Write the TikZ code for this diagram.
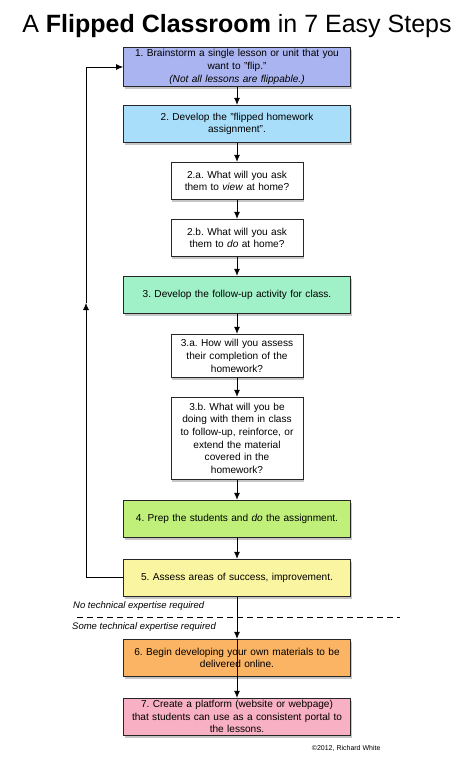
\documentclass[tikz,border=0pt]{standalone}
\usepackage{fontspec}
\setmainfont{Liberation Sans}
\usepackage{xcolor}
\usetikzlibrary{positioning, arrows.meta, shadows}
\frenchspacing
\definecolor{stepone}{RGB}{170,180,240}
\definecolor{steptwo}{RGB}{168,222,250}
\definecolor{stepthree}{RGB}{160,240,200}
\definecolor{stepfour}{RGB}{192,240,122}
\definecolor{stepfive}{RGB}{250,245,160}
\definecolor{stepsix}{RGB}{250,180,100}
\definecolor{stepseven}{RGB}{248,176,196}
\tikzstyle{every node}=[font=\fontsize{10.1}{12.7}\selectfont]
\tikzstyle{wide} = [rectangle, draw=black!85, line width=0.8pt, fill=stepone, align=center, text width=219pt, inner xsep=4pt, inner ysep=2pt, minimum height=37.2pt, drop shadow={shadow xshift=1pt, shadow yshift=-2.5pt, opacity=0.45}]
\tikzstyle{narrow} = [wide, fill=white, text width=124pt]
\tikzstyle{line} = [draw, line width=0.8pt, -{Latex[length=7pt,width=6pt]}]
\tikzstyle{note} = [font=\fontsize{9.5}{11}\selectfont\itshape, anchor=west, inner sep=0pt]

\begin{document}
\begin{tikzpicture}[x=1pt, y=-1pt, node distance=19pt]
    \useasboundingbox (0,0) rectangle (474,762);
    % Title
    \node [font=\fontsize{25}{30}\selectfont, anchor=base] (title) at (237,33) {A \textbf{Flipped Classroom} in 7 Easy Steps};
    % Place nodes
    \node [wide] (s1) at (237,67) {1. Brainstorm a single lesson or unit that you\\ want to "flip."\\ \textit{(Not all lessons are flippable.)}};
    \node [wide, below=18pt of s1, fill=steptwo] (s2) {2. Develop the "flipped homework\\ assignment".};
    \node [narrow, below=of s2] (s2a) {2.a. What will you ask\\ them to \textit{view} at home?};
    \node [narrow, below=of s2a] (s2b) {2.b. What will you ask\\ them to \textit{do} at home?};
    \node [wide, below=of s2b, fill=stepthree] (s3) {3. Develop the follow-up activity for class.};
    \node [narrow, below=20pt of s3, minimum height=43.2pt] (s3a) {3.a. How will you assess\\ their completion of the\\ homework?};
    \node [narrow, below=of s3a, minimum height=82.2pt] (s3b) {3.b. What will you be\\ doing with them in class\\ to follow-up, reinforce, or\\ extend the material\\ covered in the\\ homework?};
    \node [wide, below=20pt of s3b, fill=stepfour] (s4) {4. Prep the students and \textit{do} the assignment.};
    \node [wide, below=21pt of s4, fill=stepfive] (s5) {5. Assess areas of success, improvement.};
    \node [wide, below=42pt of s5, fill=stepsix] (s6) {6. Begin developing your own materials to be\\ delivered online.};
    \node [wide, below=21pt of s6, fill=stepseven, minimum height=36.2pt] (s7) {7. Create a platform (website or webpage)\\ that students can use as a consistent portal to\\ the lessons.};
    % Expertise divide
    \node [note] (easy) at (73,606) {No technical expertise required};
    \node [note] (hard) at (72,627) {Some technical expertise required};
    \coordinate (cutl) at (77,617);
    \coordinate (cutr) at (400,617);
    \draw [line width=0.8pt, dash pattern=on 6pt off 4pt] (cutl) -- (cutr);
    \node [font=\fontsize{7}{8}\selectfont, anchor=east] (credit) at (384,748) {©2012, Richard White};
    % Draw edges
    \path [line] (s1) -- (s2);
    \path [line] (s2) -- (s2a);
    \path [line] (s2a) -- (s2b);
    \path [line] (s2b) -- (s3);
    \path [line] (s3) -- (s3a);
    \path [line] (s3a) -- (s3b);
    \path [line] (s3b) -- (s4);
    \path [line] (s4) -- (s5);
    \path [line] (s5) -- (s6);
    \path [line] (s6.north) -- (s7);
    % Loop back
    \coordinate (turn) at (86,303);
    \path [line] (s5.west) -| (turn);
    \path [line] (turn) |- (s1.west);
\end{tikzpicture}
\end{document}
